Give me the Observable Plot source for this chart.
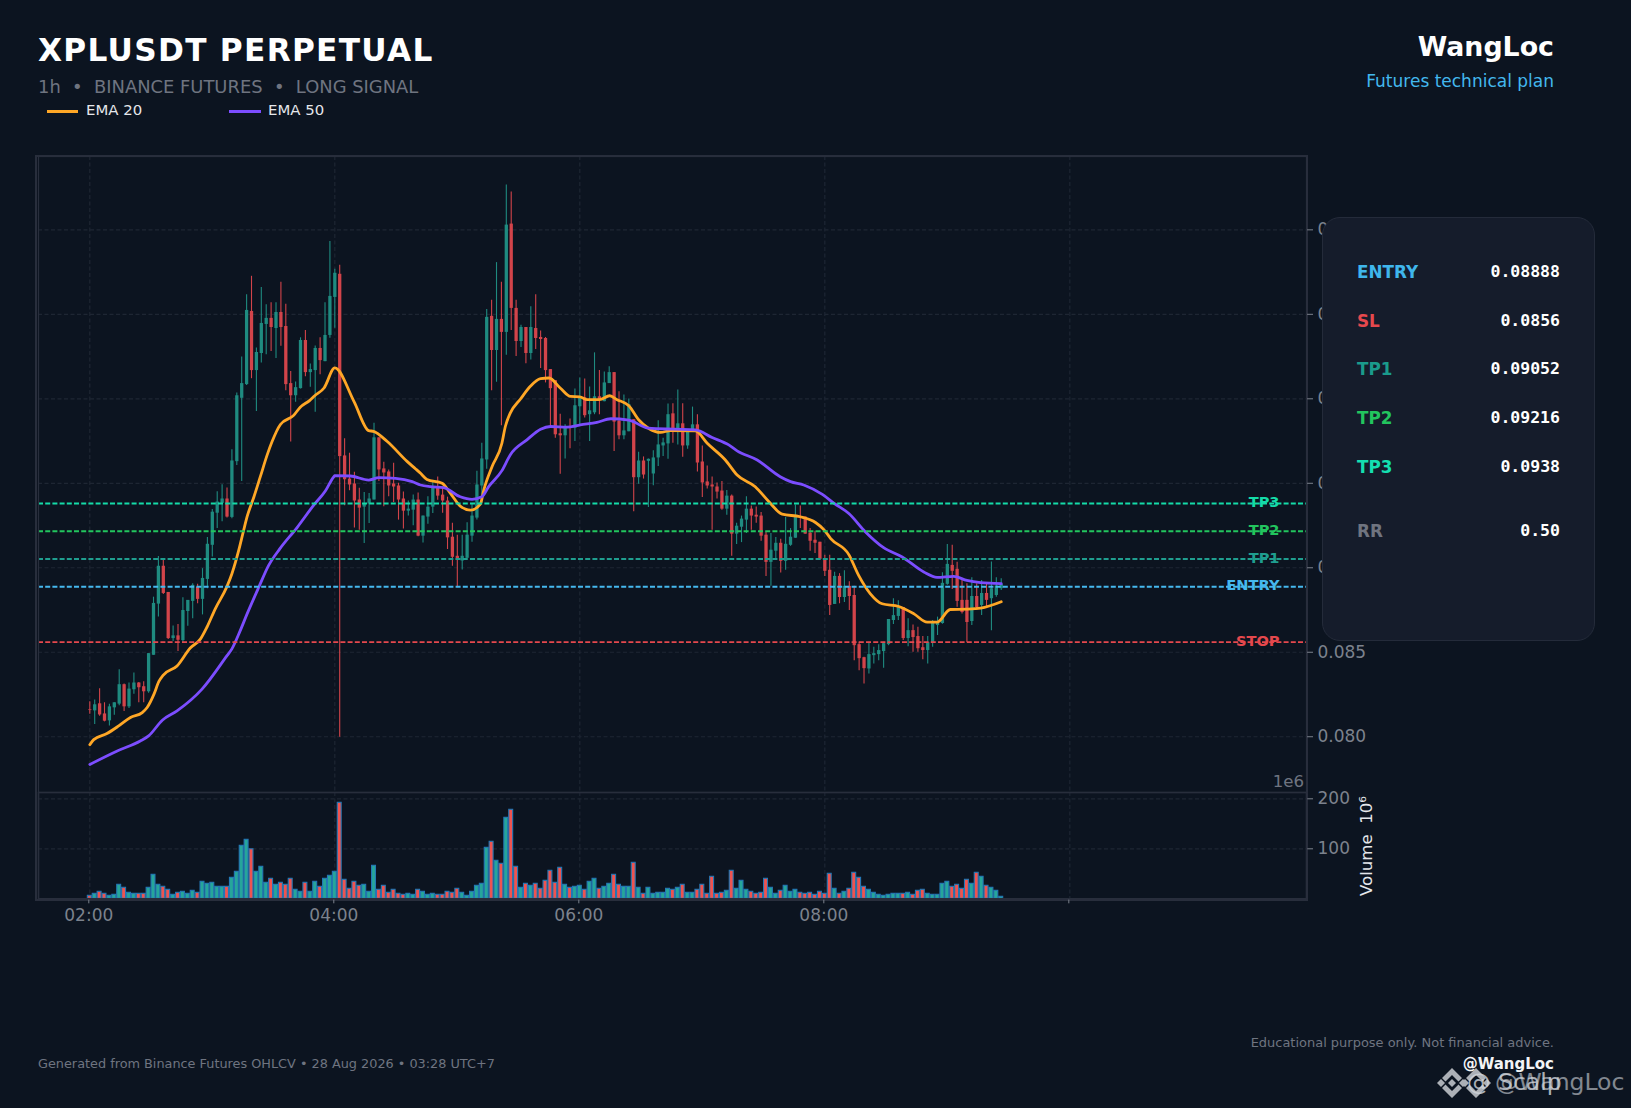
<!DOCTYPE html>
<html>
<head>
<meta charset="utf-8">
<script src="https://cdn.jsdelivr.net/npm/d3@7"></script>
<script src="https://cdn.jsdelivr.net/npm/@observablehq/plot@0.6"></script>
<style>
html,body{margin:0;padding:0;background:#0c1420;}
#page{position:relative;width:1631px;height:1108px;overflow:hidden;background:#0c1420;font-family:"DejaVu Sans",sans-serif;}
#page>*{position:absolute;white-space:pre;}
#chartA,#chartB{left:0;top:0;width:1631px;height:1108px;}
#chartA svg,#chartB svg{position:absolute;left:0;top:0;max-width:none;}
</style>
</head>
<body>
<div id="page">
  <div id="box" style="left:35px;top:155px;width:1269px;height:742px;border:2px solid #282e3c;"></div>
  <div id="chartA"></div>
  <div id="chartB"></div>
  <div style="left:38px;top:32px;font-size:31.2px;font-weight:700;letter-spacing:1.3px;color:#fff;">XPLUSDT PERPETUAL</div>
  <div style="left:38px;top:76px;font-size:17.9px;color:#6f7480;">1h  •  BINANCE FUTURES  •  LONG SIGNAL</div>
  <div style="left:47px;top:109.5px;width:31px;height:3px;background:#ffa726;"></div>
  <div style="left:86px;top:101px;font-size:14.9px;color:#e5e7eb;">EMA 20</div>
  <div style="left:229px;top:109.5px;width:32px;height:3px;background:#7c4dff;"></div>
  <div style="left:268px;top:101px;font-size:14.9px;color:#e5e7eb;">EMA 50</div>
  <div style="right:77px;top:31px;font-size:26.8px;font-weight:700;color:#fff;">WangLoc</div>
  <div style="right:77px;top:71px;font-size:17px;color:#43b8ee;">Futures technical plan</div>
  <div style="left:1272px;top:772px;width:32px;text-align:right;font-size:16.6px;color:#6f7480;">1e6</div>
  <div style="left:1366px;top:846px;font-size:16.6px;color:#e5e7eb;transform:translate(-50%,-50%) rotate(-90deg);">Volume  10⁶</div>
  <div id="panel" style="left:1322px;top:217px;width:271px;height:422px;background:#151c2b;border:1.5px solid #242b3a;border-radius:18px;"></div>
  <div style="left:38px;top:1056px;font-size:12.83px;color:#6f7480;">Generated from Binance Futures OHLCV • 28 Aug 2026 • 03:28 UTC+7</div>
  <div style="right:77px;top:1035px;font-size:12.97px;color:#6f7480;">Educational purpose only. Not financial advice.</div>
  <div style="right:77px;top:1055px;font-size:15px;font-weight:700;color:#f3f4f6;">@WangLoc</div>
  <svg style="left:1435px;top:1066px;" width="60" height="34" viewBox="0 0 60 34">
    <g fill="#c9ccd1" opacity="0.85">
      <path d="M2 17l4-4 4 4-4 4z"/><path d="M24 17l4-4 4 4-4 4z"/><path d="M17 2l10 10-3.5 3.5L17 9l-6.5 6.5L7 12z"/><path d="M17 32L7 22l3.5-3.5L17 25l6.5-6.5L27 22z"/><path d="M17 13l4 4-4 4-4-4z"/>
      <path d="M26 17l4-4 4 4-4 4z"/><path d="M48 17l4-4 4 4-4 4z"/><path d="M41 2l10 10-3.5 3.5L41 9l-6.5 6.5L31 12z"/><path d="M41 32L31 22l3.5-3.5L41 25l6.5-6.5L51 22z"/>
    </g>
  </svg>
  <div style="left:1467px;top:1068px;font-size:23.5px;color:#d1d5db;opacity:.8;">@ Scalp</div>
  <div style="left:1495px;top:1068px;font-size:23.5px;color:#d1d5db;opacity:.6;">@WangLoc</div>
</div>
<script>
// Candle prices, in units of 0.00001
const opens = [
8159,8153,8195,8135,8094,8171,8193,8308,8177,8278,8318,8296,8266,8482,8785,9009,8854,8581,8597,8569,
8741,8801,8884,8813,8931,9133,9323,9381,9407,9298,9628,10003,10084,10517,10167,10268,10440,10476,10416,10511,
10428,10090,10018,10060,10345,10155,10167,10298,10220,10375,10600,10737,9662,9525,9496,9401,9359,9377,9401,9769,
9585,9567,9496,9484,9407,9335,9341,9401,9187,9300,9359,9478,9430,9395,9181,9068,9040,9056,9187,9294,
9484,9638,10488,10286,10470,10393,11034,10535,10339,10422,10268,10416,10363,10357,10173,10107,9793,9781,9836,9826,
9953,10006,9906,9917,10012,9983,10090,10155,9868,9781,9805,9876,9533,9632,9630,9555,9650,9721,9733,9911,
9816,9852,9721,9805,9846,9626,9508,9490,9478,9454,9347,9424,9199,9240,9282,9347,9311,9306,9193,9032,
9098,9145,9038,9133,9175,9300,9300,9205,9163,9151,9050,8985,8783,8949,8824,8890,8836,8545,8468,8401,
8480,8486,8504,8545,8688,8712,8765,8581,8628,8593,8527,8510,8557,8658,8670,8902,9014,8991,8807,8807,
8682,8830,8777,8848,8817,8836,8876];
const highs = [
8207,8217,8284,8201,8193,8201,8397,8312,8318,8377,8321,8325,8492,8826,9066,9048,8854,8656,8664,8822,
8807,8906,8902,8995,9179,9345,9450,9492,9472,9698,10034,10248,10616,10725,10300,10658,10557,10569,10569,10690,
10559,10161,10100,10361,10404,10206,10313,10361,10569,10931,10767,10791,9763,9678,9565,9470,9446,9440,9856,9769,
9624,9579,9618,9500,9448,9395,9430,9442,9306,9420,9508,9537,9478,9418,9264,9193,9193,9266,9381,9571,
9737,10529,10583,10806,10690,11266,11224,10583,10436,10422,10545,10616,10401,10363,10173,10107,9909,9846,9880,10058,
10123,10117,10070,10272,10167,10159,10189,10155,10042,10022,9999,9876,9684,9656,9644,9692,9870,9767,9969,9971,
10052,9971,9816,9951,9906,9721,9603,9537,9502,9510,9458,9430,9264,9306,9420,9365,9359,9327,9212,9203,
9179,9169,9298,9232,9371,9365,9300,9232,9216,9151,9074,9074,8973,8965,8983,8917,8890,8559,8470,8559,
8529,8545,8559,8694,8816,8805,8765,8698,8662,8648,8593,8593,8688,8708,8971,9137,9133,9032,8925,8906,
8941,8906,8925,8906,9034,8941,8935];
const lows = [
8133,8072,8122,8088,8064,8127,8183,8149,8167,8252,8201,8201,8258,8482,8708,8842,8575,8563,8504,8555,
8654,8698,8787,8721,8876,9064,9232,9272,9294,9290,9605,9511,10078,10119,9925,10212,10260,10280,10238,10311,
10048,9745,9979,10058,10131,10068,9921,10143,10220,10359,10418,7997,9367,9456,9236,9222,9143,9262,9401,9510,
9361,9420,9387,9282,9230,9306,9248,9183,9147,9258,9321,9399,9323,9108,9009,8882,8987,9056,9151,9282,
9381,9583,10048,10098,9840,10258,10404,10250,10303,10208,10230,10292,10179,10094,9840,9767,9553,9644,9704,9747,
9836,9886,9747,9906,9906,9983,10090,9688,9757,9757,9805,9331,9494,9525,9357,9486,9599,9658,9642,9737,
9727,9654,9702,9805,9567,9416,9466,9222,9407,9341,9311,9068,9137,9149,9203,9222,9264,9157,8949,8890,
9044,8969,8985,9127,9175,9232,9199,9098,9084,9044,8949,8717,8783,8787,8795,8747,8450,8391,8312,8371,
8430,8450,8405,8539,8664,8688,8569,8533,8500,8500,8456,8430,8529,8599,8666,8896,8872,8767,8727,8557,
8658,8747,8717,8767,8628,8826,8866];
const closes = [
8155,8189,8129,8092,8177,8201,8308,8177,8282,8318,8290,8266,8492,8789,9009,8848,8581,8597,8571,8747,
8807,8896,8813,8937,9139,9329,9389,9407,9300,9632,10018,10090,10523,10167,10274,10446,10476,10422,10511,10422,
10084,10018,10066,10345,10155,10173,10298,10226,10375,10606,10743,9658,9521,9490,9395,9353,9377,9407,9769,9579,
9561,9484,9478,9401,9335,9347,9401,9187,9306,9359,9478,9424,9395,9177,9062,9044,9068,9193,9306,9490,
9644,10482,10286,10470,10393,11028,10535,10339,10422,10268,10422,10357,10351,10167,10060,9787,9781,9826,9824,9959,
10006,9900,9929,10012,9995,10094,10155,9862,9781,9810,9965,9533,9632,9549,9642,9650,9727,9739,9906,9805,
9852,9721,9805,9846,9620,9502,9484,9478,9448,9347,9424,9199,9246,9288,9347,9306,9300,9187,9032,9104,
9145,9038,9139,9181,9300,9294,9199,9157,9145,9050,8979,8777,8949,8824,8890,8830,8539,8462,8403,8486,
8492,8510,8551,8694,8717,8765,8581,8628,8587,8521,8510,8557,8670,8672,8908,9020,8979,8801,8735,8676,
8830,8765,8848,8807,8876,8892,8902];
// Volume in millions
const volumes = [
6,10,14,10,6,8,28,22,12,10,10,10,22,48,28,24,18,8,12,14,
10,16,12,34,30,32,24,24,24,42,54,106,118,99,54,64,32,40,28,32,
28,40,18,14,32,14,34,24,40,46,54,192,38,20,34,26,28,14,66,18,
26,12,18,10,8,10,8,18,14,8,10,8,8,14,12,20,12,6,14,26,
30,102,114,76,70,162,178,64,22,30,26,30,20,36,56,32,62,28,22,24,
26,18,34,40,20,24,30,48,28,24,24,72,22,10,22,10,12,12,20,18,
22,28,12,12,18,28,10,44,10,12,16,56,20,36,18,14,10,12,40,22,
10,16,26,14,18,12,10,12,8,14,10,50,20,10,14,20,52,42,24,18,
12,8,6,8,10,10,10,12,8,16,18,10,8,8,30,34,24,28,20,38,
30,52,44,26,22,16,4];
// EMA curves: candle position and value (units of 0.00001)
const ema20Index = [0,0.8,3.5,5.9,8.3,10.7,11.7,13.1,14.1,15,17.8,20.5,22.6,23.9,25.6,28,29,30.4,31.4,32.1,33.5,34.8,36.2,37.2,38.9,41.6,42.9,44.9,45.9,47.8,50,53.9,56.9,57.9,60.7,64.8,66.5,67.5,68.8,71.9,73.6,75.6,77.7,79.7,80.4,82.1,84.1,84.8,85.8,87.9,89.9,92,93.7,96,98.1,100,101.5,104,106.1,107.6,110,112,114,116.5,118.5,123.6,126,129.7,132.1,135.8,138.6,141.3,145,148.1,149.8,151.2,154.9,156.9,159.3,161.7,165.1,168.2,170.9,172.9,175.6,179,181.8,186];
const ema20Value = [7953,7983,8019,8064,8114,8143,8173,8252,8327,8365,8419,8525,8579,8648,8757,8890,8965,9104,9222,9302,9420,9539,9668,9747,9848,9902,9949,9991,10018,10064,10183,9985,9812,9807,9747,9628,9585,9559,9523,9500,9440,9365,9341,9377,9460,9599,9737,9836,9915,9999,10074,10119,10123,10064,10014,10012,9995,9995,10018,9995,9959,9876,9826,9801,9812,9810,9737,9638,9549,9480,9391,9317,9302,9268,9226,9173,9078,8955,8846,8787,8771,8727,8678,8678,8753,8755,8761,8799];
const ema50Index = [0,5.6,10.3,12,14.8,17.8,22.9,28,29,30.7,32.1,34.5,36.5,38.8,42.3,45.7,48.1,49.8,50,53.2,56.9,59,62.4,65.8,67.5,69.5,72.2,75.6,78,80,81.4,84.1,85.8,89.2,92,94,97.4,100.1,103.5,106.3,110,114,119.2,123.6,127,130.4,132.1,136.2,140.9,143,145.7,149.5,151.9,154.9,158.3,162,165.8,170.2,172.9,176.3,179,181.8,186];
const ema50Value = [7836,7916,7975,8005,8098,8153,8282,8480,8520,8628,8727,8886,9014,9113,9238,9371,9456,9539,9545,9543,9519,9533,9529,9510,9490,9480,9474,9420,9405,9420,9480,9575,9668,9757,9820,9836,9832,9846,9860,9882,9874,9826,9820,9816,9771,9727,9692,9638,9539,9510,9490,9434,9381,9321,9212,9119,9064,8975,8943,8949,8925,8912,8906];
// Trade levels
const levelNames = ["TP3","TP2","TP1","ENTRY","STOP"];
const levelValues = [0.0938,0.09216,0.09052,0.08888,0.0856];
const levelColors = ["#14dba8","#22c55e","#1f9e8f","#45b8ee","#e5484d"];
// Side panel
const panelLabels = ["ENTRY","SL","TP1","TP2","TP3","RR"];
const panelValues = ["0.08888","0.0856","0.09052","0.09216","0.0938","0.50"];
const panelColors = ["#3fb6ec","#e5484d","#1a9b8c","#22c55e","#14dfb0","#6f7480"];
const panelRows = [272,320.5,369,418,466.5,531];
// Axis ticks
const xTicks = [0,50,100,150,200];
const xTickLabels = ["02:00","04:00","06:00","08:00",""];
const priceTicks = [0.08,0.085,0.09,0.095,0.1,0.105,0.11];
const volumeTicks = [100,200];

const UP = "#1f8b80", DOWN = "#d2444a", GRID = "#1e2633", FRAME = "#282e3c", TEXT = "#7c828d";
const candles = opens.map((o,i)=>({i,open:o/1e5,high:highs[i]/1e5,low:lows[i]/1e5,close:closes[i]/1e5,volume:volumes[i]}));
const ema20 = ema20Index.map((i,k)=>({i,v:ema20Value[k]/1e5}));
const ema50 = ema50Index.map((i,k)=>({i,v:ema50Value[k]/1e5}));
const levels = levelNames.map((name,k)=>({name,value:levelValues[k],color:levelColors[k]}));
const xScale = {domain:[-10.47,248.3],axis:null};
const base = {width:1631,marginLeft:38,marginRight:325,
  style:{background:"transparent",fontFamily:"DejaVu Sans",overflow:"visible",maxWidth:"none"}};
const colorOf = d => d.close>=d.open ? UP : DOWN;

const price = Plot.plot({...base,height:900,marginTop:156,marginBottom:108,
  x:xScale,
  y:{domain:[0.0767,0.11434],axis:null},
  color:{type:"identity"},
  marks:[
    Plot.gridX(xTicks,{stroke:GRID,strokeOpacity:1,strokeWidth:1.2,strokeDasharray:"4,2.5"}),
    Plot.gridY(priceTicks,{stroke:GRID,strokeOpacity:1,strokeWidth:1.2,strokeDasharray:"4,2.5"}),
    Plot.ruleX(candles,{x:"i",y1:"low",y2:"high",stroke:colorOf,strokeWidth:1.1}),
    Plot.ruleX(candles,{x:"i",y1:"open",y2:"close",stroke:colorOf,strokeWidth:3.3}),
    Plot.line(ema20,{x:"i",y:"v",stroke:"#ffa726",strokeWidth:2.8,curve:"monotone-x"}),
    Plot.line(ema50,{x:"i",y:"v",stroke:"#7c4dff",strokeWidth:2.8,curve:"monotone-x"}),
    Plot.ruleY(levels,{y:"value",stroke:"color",strokeWidth:1.9,strokeDasharray:"5,2.2"}),
    Plot.text(levels,{y:"value",text:"name",fill:"color",frameAnchor:"right",textAnchor:"end",dx:-27,dy:-1,fontSize:14.6,fontWeight:"bold"}),
    Plot.axisY(priceTicks,{anchor:"right",label:null,tickFormat:d3.format(".3f"),tickSize:6,tickPadding:5,fontSize:17,color:TEXT}),
    Plot.frame({stroke:FRAME,strokeWidth:1.2})
  ]});
document.getElementById("chartA").append(price);

const volume = Plot.plot({...base,height:1000,marginTop:792,marginBottom:101.7,
  x:xScale,
  y:{domain:[0,212.6],axis:null},
  color:{type:"identity"},
  marks:[
    Plot.gridX(xTicks,{stroke:GRID,strokeOpacity:1,strokeWidth:1.2,strokeDasharray:"4,2.5"}),
    Plot.gridY(volumeTicks,{stroke:GRID,strokeOpacity:1,strokeWidth:1.2,strokeDasharray:"4,2.5"}),
    Plot.rectY(candles,{x1:d=>d.i-0.4,x2:d=>d.i+0.4,y:"volume",fill:d=>d.close>=d.open?"#26a69a":"#ef5350",stroke:"#2478b5",strokeWidth:1.1}),
    Plot.axisY(volumeTicks,{anchor:"right",label:null,tickSize:6,tickPadding:5,fontSize:17,color:TEXT}),
    Plot.axisX(xTicks,{anchor:"bottom",label:null,tickFormat:(d,k)=>xTickLabels[k],tickSize:5,tickPadding:5,fontSize:17,dx:-1,color:TEXT}),
    Plot.frame({stroke:FRAME,strokeWidth:1.6})
  ]});
document.getElementById("chartB").append(volume);

// Side panel text
const page = document.getElementById("page");
panelLabels.forEach((label,k)=>{
  const l = document.createElement("div");
  l.textContent = label;
  l.style.cssText = `left:1357px;top:${panelRows[k]-10}px;font-size:16.8px;line-height:20px;font-weight:700;color:${panelColors[k]};`;
  const v = document.createElement("div");
  v.textContent = panelValues[k];
  v.style.cssText = `right:71px;top:${panelRows[k]-10}px;font-size:16.5px;line-height:20px;font-weight:700;color:#fff;font-family:'DejaVu Sans Mono',monospace;`;
  page.append(l,v);
});
</script>
</body>
</html>
